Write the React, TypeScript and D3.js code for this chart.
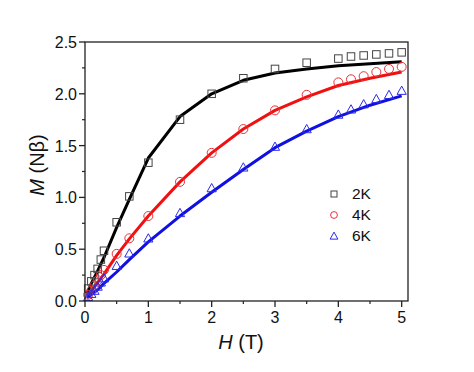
import React from "react";
import * as d3 from "d3";

const H2 = [0.05, 0.1, 0.15, 0.2, 0.25, 0.3, 0.5, 0.7, 1.0, 1.5, 2.0, 2.5, 3.0, 3.5, 4.0, 4.2, 4.4, 4.6, 4.8, 5.0];
const M2 = [0.12, 0.19, 0.25, 0.31, 0.4, 0.485, 0.76, 1.01, 1.335, 1.75, 2.0, 2.15, 2.24, 2.3, 2.34, 2.36, 2.37, 2.38, 2.39, 2.4];
const H4 = [0.05, 0.1, 0.15, 0.2, 0.25, 0.3, 0.5, 0.7, 1.0, 1.5, 2.0, 2.5, 3.0, 3.5, 4.0, 4.2, 4.4, 4.6, 4.8, 5.0];
const M4 = [0.06, 0.1, 0.15, 0.2, 0.25, 0.3, 0.455, 0.605, 0.82, 1.15, 1.43, 1.66, 1.84, 1.99, 2.11, 2.14, 2.17, 2.21, 2.24, 2.26];
const H6 = [0.05, 0.1, 0.15, 0.2, 0.25, 0.3, 0.5, 0.7, 1.0, 1.5, 2.0, 2.5, 3.0, 3.5, 4.0, 4.2, 4.4, 4.6, 4.8, 5.0];
const M6 = [0.04, 0.07, 0.1, 0.14, 0.18, 0.22, 0.34, 0.46, 0.605, 0.85, 1.09, 1.29, 1.49, 1.66, 1.8, 1.85, 1.9, 1.95, 1.99, 2.03];

const FH = [0.03, 0.1, 0.2, 0.3, 0.5, 0.7, 1.0, 1.5, 2.0, 2.5, 3.0, 3.5, 4.0, 4.5, 5.0];
const F2 = [0.07, 0.17, 0.29, 0.42, 0.71, 0.98, 1.38, 1.78, 2.0, 2.13, 2.2, 2.24, 2.27, 2.29, 2.31];
const F4 = [0.05, 0.1, 0.18, 0.26, 0.44, 0.6, 0.82, 1.15, 1.43, 1.66, 1.84, 1.97, 2.08, 2.15, 2.21];
const F6 = [0.03, 0.06, 0.11, 0.17, 0.28, 0.4, 0.57, 0.82, 1.05, 1.27, 1.48, 1.64, 1.78, 1.89, 1.98];

const xTicks = [0, 1, 2, 3, 4, 5];
const yTicks = [0, 0.5, 1.0, 1.5, 2.0, 2.5];
const legendLabels = ["2K", "4K", "6K"];

const FONT = "'Liberation Sans', Arial, sans-serif";

export default function App() {
  const left = 85, right = 408, top = 42, bottom = 301;
  const x = d3.scaleLinear().domain([0, 5.1]).range([left, right]);
  const y = d3.scaleLinear().domain([0, 2.5]).range([bottom, top]);
  const line = d3.line<[number, number]>().x(d => x(d[0])).y(d => y(d[1]));
  const zip = (a: number[], b: number[]) => a.map((v, i) => [v, b[i]] as [number, number]);

  const xMinor = d3.range(0.5, 5.1, 1);
  const yMinor = d3.range(0.25, 2.5, 0.5);

  const sq = 7.5;
  const triPath = (cx: number, cy: number, s = 4.6) =>
    `M${cx},${cy - s}L${cx + s},${cy + s * 0.8}L${cx - s},${cy + s * 0.8}Z`;

  return (
    <svg width={474} height={372} style={{ position: "absolute", left: 0, top: 0 }}>
      <rect width={474} height={372} fill="#fff" />
      {/* fit lines */}
      <path d={line(zip(FH, F2)) || ""} fill="none" stroke="#000" strokeWidth={3} strokeLinejoin="round" />
      <path d={line(zip(FH, F4)) || ""} fill="none" stroke="#f01010" strokeWidth={3} strokeLinejoin="round" />
      <path d={line(zip(FH, F6)) || ""} fill="none" stroke="#1010e0" strokeWidth={3} strokeLinejoin="round" />
      {/* markers */}
      {H2.map((h, i) => (
        <rect key={"s" + i} x={x(h) - sq / 2} y={y(M2[i]) - sq / 2} width={sq} height={sq} fill="none" stroke="#444" strokeWidth={1} />
      ))}
      {H4.map((h, i) => (
        <circle key={"c" + i} cx={x(h)} cy={y(M4[i])} r={4.5} fill="none" stroke="#e8303a" strokeWidth={1} />
      ))}
      {H6.map((h, i) => (
        <path key={"t" + i} d={triPath(x(h), y(M6[i]))} fill="none" stroke="#2b2bea" strokeWidth={1} />
      ))}
      {/* frame */}
      <rect x={left} y={top} width={right - left} height={bottom - top} fill="none" stroke="#222" strokeWidth={1.3} />
      {/* x axis ticks */}
      {xTicks.map(t => (
        <g key={"xt" + t}>
          <line x1={x(t)} x2={x(t)} y1={bottom} y2={bottom + 6} stroke="#222" strokeWidth={1.3} />
          <text x={x(t)} y={323} textAnchor="middle" fontFamily={FONT} fontSize={16} fill="#111">{t}</text>
        </g>
      ))}
      {xMinor.map(t => (
        <line key={"xm" + t} x1={x(t)} x2={x(t)} y1={bottom} y2={bottom + 3} stroke="#222" strokeWidth={1.2} />
      ))}
      {/* y axis ticks */}
      {yTicks.map(t => (
        <g key={"yt" + t}>
          <line x1={left - 6} x2={left} y1={y(t)} y2={y(t)} stroke="#222" strokeWidth={1.3} />
          <text x={77} y={y(t) + 6} textAnchor="end" fontFamily={FONT} fontSize={16} fill="#111">{t.toFixed(1)}</text>
        </g>
      ))}
      {yMinor.map(t => (
        <line key={"ym" + t} x1={left - 3} x2={left} y1={y(t)} y2={y(t)} stroke="#222" strokeWidth={1.2} />
      ))}
      {/* axis titles */}
      <text x={241} y={349} textAnchor="middle" fontFamily={FONT} fontSize={20} fill="#111">
        <tspan fontStyle="italic">H</tspan> (T)
      </text>
      <text transform="translate(44,165) rotate(-90)" textAnchor="middle" fontFamily={FONT} fontSize={20} fill="#111">
        <tspan fontStyle="italic">M</tspan> (Nβ)
      </text>
      {/* legend */}
      {legendLabels.map((lab, i) => {
        const ly = [194, 215, 236][i];
        const lx = 334;
        return (
          <g key={lab}>
            {i === 0 && <rect x={lx - 3} y={ly - 3} width={6} height={6} fill="none" stroke="#444" strokeWidth={1} />}
            {i === 1 && <circle cx={lx} cy={ly} r={3.4} fill="none" stroke="#e8303a" strokeWidth={1} />}
            {i === 2 && <path d={triPath(lx, ly, 3.9)} fill="none" stroke="#2b2bea" strokeWidth={1} />}
            <text x={352} y={ly + 4.5} fontFamily={FONT} fontSize={15.5} fill="#111">{lab}</text>
          </g>
        );
      })}
    </svg>
  );
}
